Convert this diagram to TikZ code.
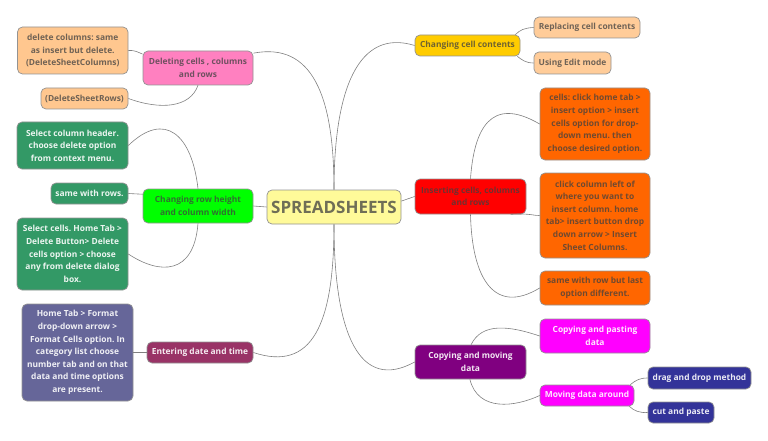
\documentclass[tikz,border=0pt]{standalone}
\usepackage{fontspec}
\setmainfont{Open Sans}
\frenchspacing

\definecolor{hotmagenta}{RGB}{255,0,255}

\tikzset{%
  every topic/.style={
    draw=gray!85,
    line width=0.7pt,
    rounded corners=5pt,
    align=center,
    inner sep=0pt,
    font=\fontsize{8.4}{12.6}\selectfont\bfseries
  },
  size/.style n args={2}{minimum width=#1pt, minimum height=#2pt},
  dark text/.style={text=black!75, text opacity=0.75},
  light text/.style={text=white, text opacity=0.9},
  link/.style={draw=gray, line width=0.6pt},
}

\begin{document}
\begin{tikzpicture}[x=1pt, y=-1pt]
\useasboundingbox (0,0) rectangle (768,441);

\node [every topic, size={134}{34}, fill=yellow!40!white, dark text, font=\fontsize{17}{20}\selectfont\bfseries] (central) at (334,207) {SPREADSHEETS};

% left side
\node [every topic, size={110}{34}, fill={rgb,255:red,255;green,128;blue,192}, dark text] (deleting) at (198,68) {Deleting cells , columns\\and rows};
\node [every topic, size={110.5}{47}, fill={rgb,255:red,255;green,199;blue,143}, dark text] (delcol) at (72.75,50.5) {delete columns: same\\as insert but delete.\\(DeleteSheetColumns)};
\node [every topic, size={87}{21}, fill={rgb,255:red,255;green,199;blue,143}, dark text] (delrow) at (84.5,98.5) {(DeleteSheetRows)};

\node [every topic, size={110}{34}, fill=green, dark text] (height) at (198,206) {Changing row height\\and column width};
\node [every topic, size={111}{47}, fill={rgb,255:red,51;green,153;blue,102}, light text] (selcol) at (72.5,145.5) {Select column header.\\choose delete option\\from context menu.};
\node [every topic, size={77}{21}, fill={rgb,255:red,51;green,153;blue,102}, light text] (samerows) at (89.5,193.5) {same with rows.};
\node [every topic, size={111}{72}, fill={rgb,255:red,51;green,153;blue,102}, light text] (selcells) at (72.5,254) {Select cells. Home Tab >\\Delete Button> Delete\\cells option > choose\\any from delete dialog\\box.};

\node [every topic, size={106}{21}, fill={rgb,255:red,153;green,51;blue,102}, light text] (entering) at (200,352.5) {Entering date and time};
\node [every topic, size={111}{97}, fill={rgb,255:red,102;green,102;blue,153}, light text] (hometab) at (77.5,352.5) {Home Tab > Format\\drop-down arrow >\\Format Cells option. In\\category list choose\\number tab and on that\\data and time options\\are present.};

% right side
\node [every topic, size={105}{21}, fill={rgb,255:red,255;green,204;blue,0}, dark text] (contents) at (467.5,45.5) {Changing cell contents};
\node [every topic, size={106}{21}, fill={rgb,255:red,255;green,204;blue,153}, dark text] (replacing) at (587,27.5) {Replacing cell contents};
\node [every topic, size={77}{22}, fill={rgb,255:red,255;green,204;blue,153}, dark text] (editmode) at (572.5,63) {Using Edit mode};

\node [every topic, size={111}{35}, fill=red, dark text] (inserting) at (470.5,196.5) {Inserting cells, columns\\and rows};
\node [every topic, size={110}{72}, fill={rgb,255:red,255;green,102;blue,0}, dark text] (inscells) at (595,124) {cells: click home tab >\\insert option > insert\\cells option for drop-\\down menu. then\\choose desired option.};
\node [every topic, size={110}{85}, fill={rgb,255:red,255;green,102;blue,0}, dark text] (inscol) at (595,215.5) {click column left of\\where you want to\\insert column. home\\tab> insert button drop\\down arrow > Insert\\Sheet Columns.};
\node [every topic, size={110}{34}, fill={rgb,255:red,255;green,102;blue,0}, dark text] (insrow) at (595,288) {same with row but last\\option different.};

\node [every topic, size={111}{34}, fill={rgb,255:red,128;green,0;blue,128}, light text] (copymove) at (470.5,362) {Copying and moving\\data};
\node [every topic, size={110}{34}, fill=hotmagenta, light text] (pasting) at (595,336) {Copying and pasting\\data};
\node [every topic, size={94}{21}, fill=hotmagenta, light text] (around) at (587,395.5) {Moving data around};
\node [every topic, size={103}{22}, fill={rgb,255:red,51;green,51;blue,153}, light text] (dragdrop) at (699.5,378) {drag and drop method};
\node [every topic, size={66}{21}, fill={rgb,255:red,51;green,51;blue,153}, light text] (cutpaste) at (681,412.5) {cut and paste};

% from the centre
\draw [link] (central.north) .. controls (334,95) and (312,42) .. (deleting.15);
\draw [link] (central.north) .. controls (334,90) and (358,28) .. (contents.west);
\draw [link] (central.south) .. controls (334,325) and (312,372) .. (entering.east);
\draw [link] (central.south) .. controls (334,335) and (360,392) .. (copymove.west);
\draw [link] (central.west) -- (height.east);
\draw [link] (central.5) -- (inserting.west);

% left branches
\draw [link] (delcol.east) .. controls (134,50) and (138,52) .. (deleting.166);
\draw [link] (deleting.south) .. controls (190,108) and (160,110) .. (delrow.east);
\draw [link] (height.north) .. controls (192,135) and (165,110) .. (selcol.east);
\draw [link] (samerows.east) -- (height.168);
\draw [link] (height.south) .. controls (194,275) and (160,275) .. (selcells.east);
\draw [link] (hometab.east) -- (entering.west);

% right branches
\draw [link] (contents.north east) ++(-5,0) .. controls (520,30) and (524,28) .. (replacing.west);
\draw [link] (contents.south east) ++(-3,0) .. controls (522,60) and (526,63) .. (editmode.west);
\draw [link] (inserting.north) .. controls (474,130) and (490,95) .. (inscells.west);
\draw [link] (inserting.south) .. controls (472,280) and (495,315) .. (insrow.west);
\draw [link] (inserting.-24) .. controls (530,213) and (535,216) .. (inscol.west);
\draw [link] (copymove.88) .. controls (482,322) and (510,326) .. (pasting.west);
\draw [link] (copymove.-92) .. controls (478,412) and (515,407) .. (around.west);
\draw [link] (around.north east) ++(-4,0) .. controls (636,380) and (640,378) .. (dragdrop.west);
\draw [link] (around.south east) ++(-5,0) .. controls (634,411) and (640,413) .. (cutpaste.west);

\end{tikzpicture}
\end{document}
